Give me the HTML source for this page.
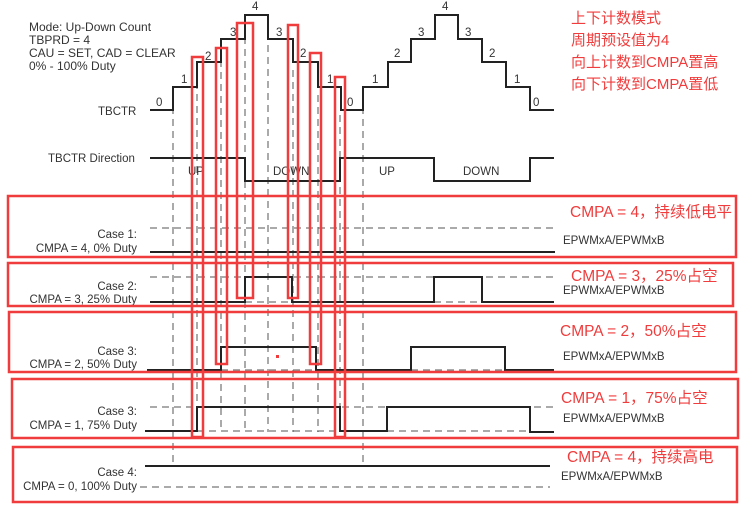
<!DOCTYPE html>
<html><head><meta charset="utf-8"><style>
html,body{margin:0;padding:0;background:#fff}
svg{display:block}
.t{font-family:"Liberation Sans",Arial,sans-serif;font-size:11.5px;fill:#333}
.r{font-family:"Liberation Sans","Noto Sans CJK SC",sans-serif;font-size:15px;fill:#f03c3c}
.rb{font-family:"Liberation Sans","Noto Sans CJK SC",sans-serif;font-size:15.5px;fill:#f03c3c}
</style></head><body>
<svg width="752" height="506" viewBox="0 0 752 506" xmlns="http://www.w3.org/2000/svg">
<g stroke="#555" stroke-width="1" stroke-dasharray="7,5" fill="none">
<line x1="173" y1="95" x2="173" y2="462"/>
<line x1="197" y1="70" x2="197" y2="432"/>
<line x1="221" y1="48" x2="221" y2="432"/>
<line x1="245" y1="25" x2="245" y2="432"/>
<line x1="268" y1="45" x2="268" y2="432"/>
<line x1="293" y1="70" x2="293" y2="432"/>
<line x1="318" y1="95" x2="318" y2="432"/>
<line x1="340" y1="115" x2="340" y2="432"/>
<line x1="363" y1="95" x2="363" y2="462"/>
<line x1="150" y1="228" x2="555" y2="228"/>
<line x1="150" y1="277" x2="555" y2="277"/>
<line x1="245" y1="302" x2="293" y2="302"/>
<line x1="434" y1="302" x2="482" y2="302"/>
<line x1="221" y1="370" x2="316" y2="370"/>
<line x1="411" y1="370" x2="505" y2="370"/>
<line x1="150" y1="407" x2="555" y2="407"/>
<line x1="197" y1="431" x2="340" y2="431"/>
<line x1="387" y1="431" x2="530" y2="431"/>
<line x1="140" y1="487" x2="550" y2="487"/>
</g>
<g stroke="#222" stroke-width="2" fill="none">
<polyline points="150,110 173,110 173,87 197,87 197,62 221,62 221,39 245,39 245,15 268,15 268,39 293,39 293,62 318,62 318,87 341,87 341,110 363,110 363,87 388,87 388,62 411,62 411,39 435,39 435,15 458,15 458,39 482,39 482,62 506,62 506,87 530,87 530,110 554,110"/>
<polyline points="150,158 245,158 245,181 340,181 340,158 434,158 434,181 530,181 530,158 554,158"/>
<line x1="150" y1="252" x2="555" y2="252"/>
<polyline points="150,302 245,302 245,277 292,277 292,302 434,302 434,277 482,277 482,302 554,302"/>
<polyline points="147,370 221,370 221,347 316,347 316,370 411,370 411,347 505,347 505,370 554,370"/>
<polyline points="145,431 197,431 197,407 340,407 340,431 387,431 387,407 530,407 530,432 554,432"/>
<line x1="145" y1="466" x2="550" y2="466"/>
</g>
<g class="t">
<text x="29" y="31" style="font-size:12px">Mode: Up-Down Count</text>
<text x="29" y="44" style="font-size:12px">TBPRD = 4</text>
<text x="29" y="57" style="font-size:12px">CAU = SET, CAD = CLEAR</text>
<text x="29" y="70" style="font-size:12px">0% - 100% Duty</text>
<text x="98" y="115">TBCTR</text>
<text x="48" y="162">TBCTR Direction</text>
<text x="156" y="106">0</text><text x="181" y="83">1</text><text x="205" y="60">2</text><text x="230" y="36">3</text><text x="252" y="10">4</text><text x="276" y="36">3</text><text x="300" y="57">2</text><text x="327" y="83">1</text><text x="347" y="106">0</text>
<text x="372" y="83">1</text><text x="394" y="57">2</text><text x="418" y="36">3</text><text x="442" y="10">4</text><text x="465" y="36">3</text><text x="489" y="57">2</text><text x="514" y="83">1</text><text x="533" y="106">0</text>
<text x="188" y="175">UP</text><text x="273" y="175">DOWN</text>
<text x="379" y="175">UP</text><text x="463" y="175">DOWN</text>
<g text-anchor="end">
<text x="137" y="238">Case 1:</text><text x="137" y="252">CMPA = 4,  0% Duty</text>
<text x="137" y="290">Case 2:</text><text x="137" y="303">CMPA = 3, 25% Duty</text>
<text x="137" y="355">Case 3:</text><text x="137" y="368">CMPA = 2, 50% Duty</text>
<text x="137" y="415">Case 3:</text><text x="137" y="429">CMPA = 1, 75% Duty</text>
<text x="137" y="476">Case 4:</text><text x="137" y="490">CMPA = 0, 100% Duty</text>
</g>
<text x="563" y="244">EPWMxA/EPWMxB</text>
<text x="563" y="294">EPWMxA/EPWMxB</text>
<text x="563" y="360">EPWMxA/EPWMxB</text>
<text x="563" y="422">EPWMxA/EPWMxB</text>
<text x="561" y="480">EPWMxA/EPWMxB</text>
</g>
<g stroke="#f03c3c" stroke-width="2.5" fill="none">
<rect x="8" y="196" width="728" height="61"/>
<rect x="8" y="263" width="725" height="43"/>
<rect x="9" y="312" width="727" height="60"/>
<rect x="12" y="379" width="726" height="59"/>
<rect x="13" y="447" width="724" height="55"/>
<rect x="192" y="57" width="11" height="380"/>
<rect x="216" y="48" width="11" height="316"/>
<rect x="237" y="23" width="16" height="275"/>
<rect x="288" y="25" width="10" height="273"/>
<rect x="310" y="53" width="11" height="311"/>
<rect x="335" y="77" width="10" height="360"/>
</g>
<rect x="276" y="355" width="3" height="3" fill="#f03c3c"/>
<g class="r">
<text x="571" y="23">上下计数模式</text>
<text x="571" y="45">周期预设值为4</text>
<text x="571" y="67">向上计数到CMPA置高</text>
<text x="571" y="89">向下计数到CMPA置低</text>
</g>
<g class="rb">
<text x="570" y="217">CMPA = 4，持续低电平</text>
<text x="571" y="281">CMPA = 3，25%占空</text>
<text x="560" y="336">CMPA = 2，50%占空</text>
<text x="561" y="403">CMPA = 1，75%占空</text>
<text x="567" y="462">CMPA = 4，持续高电</text>
</g>
</svg>
</body></html>
